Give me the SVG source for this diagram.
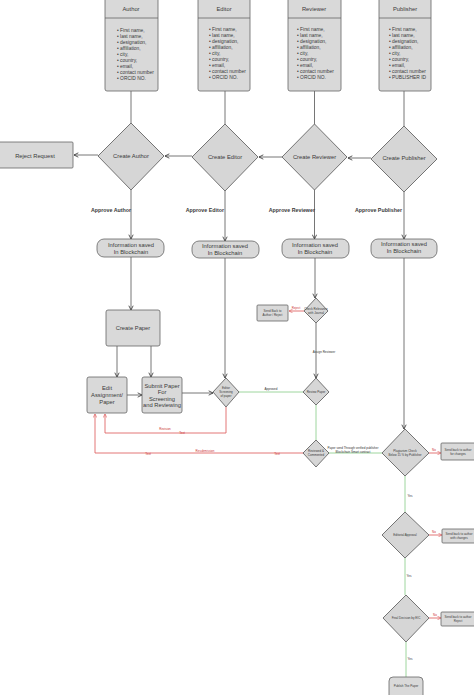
<svg xmlns="http://www.w3.org/2000/svg" width="474" height="695" viewBox="0 0 474 695">
<style>
text{font-family:"Liberation Sans",Arial,sans-serif;fill:#3a3a3a}
.box{fill:#d9d9d9;stroke:#666;stroke-width:0.8}
.dia{fill:#d6d6d6;stroke:#555;stroke-width:0.8}
.t6{font-size:5.8px;text-anchor:middle}
.t5{font-size:4.9px}
.ap{font-size:5.3px;font-weight:bold;text-anchor:end}
.tiny{font-size:3px;text-anchor:middle}
.ln{fill:none;stroke:#666;stroke-width:0.9}
.red{fill:none;stroke:#e06666;stroke-width:0.9}
.grn{fill:none;stroke:#93d193;stroke-width:0.9}
.rt{font-size:3px;fill:#cc3333;text-anchor:middle}
.gt{font-size:3px;fill:#333;text-anchor:middle}
</style>
<defs>
<marker id="ar" viewBox="0 0 10 10" refX="9" refY="5" markerWidth="6" markerHeight="6" orient="auto"><path d="M1,1 L9,5 L1,9" fill="none" stroke="#333" stroke-width="1.5"/></marker>
<marker id="arr" viewBox="0 0 10 10" refX="9" refY="5" markerWidth="5" markerHeight="5" orient="auto"><path d="M1,1 L9,5 L1,9" fill="none" stroke="#e06666" stroke-width="1.5"/></marker>
</defs>
<rect width="474" height="695" fill="#fff"/>

<g id="connectors">
<line class="ln" x1="131" y1="91" x2="131" y2="123"/>
<line class="ln" x1="225" y1="91" x2="225" y2="124"/>
<line class="ln" x1="314.5" y1="91" x2="314.5" y2="124"/>
<line class="ln" x1="404" y1="91" x2="404" y2="126"/>
<line class="ln" x1="371" y1="158" x2="348" y2="158" marker-end="url(#ar)"/>
<line class="ln" x1="282" y1="157" x2="259" y2="157" marker-end="url(#ar)"/>
<line class="ln" x1="192" y1="156" x2="165" y2="156" marker-end="url(#ar)"/>
<line class="ln" x1="98" y1="155" x2="74" y2="155" marker-end="url(#ar)"/>
<line class="ln" x1="131" y1="190" x2="131" y2="239" marker-end="url(#ar)"/>
<line class="ln" x1="225" y1="191" x2="225" y2="241" marker-end="url(#ar)"/>
<line class="ln" x1="314.5" y1="190" x2="314.5" y2="239" marker-end="url(#ar)"/>
<line class="ln" x1="404" y1="192" x2="404" y2="239" marker-end="url(#ar)"/>
<line class="ln" x1="131" y1="257" x2="131" y2="310" marker-end="url(#ar)"/>
<line class="ln" x1="225" y1="258" x2="225" y2="378" marker-end="url(#ar)"/>
<line class="ln" x1="315" y1="258" x2="315" y2="298" marker-end="url(#ar)"/>
<line class="ln" x1="404" y1="258" x2="404" y2="429" marker-end="url(#ar)"/>
<line class="ln" x1="117" y1="346" x2="117" y2="377" marker-end="url(#ar)"/>
<line class="ln" x1="151" y1="346" x2="151" y2="377" marker-end="url(#ar)"/>
<line class="ln" x1="127" y1="395" x2="142" y2="395" marker-end="url(#ar)"/>
<line class="ln" x1="182" y1="393" x2="213" y2="393" marker-end="url(#ar)"/>
<line class="ln" x1="316" y1="323" x2="316" y2="378" marker-end="url(#ar)"/>
<text class="gt" x="324" y="353">Assign Reviewer</text>
<polyline class="red" points="226,407 226,433 105,433 105,414" marker-end="url(#arr)"/>
<text class="rt" x="165" y="430">Revision</text>
<text class="rt" x="182" y="434">Text</text>
<polyline class="red" points="304,453 95,453 95,414" marker-end="url(#arr)"/>
<text class="rt" x="205" y="452">Resubmission</text>
<text class="rt" x="148" y="455">Text</text>
<text class="rt" x="277" y="455">Text</text>
<line class="red" x1="304" y1="311" x2="289" y2="311" marker-end="url(#arr)"/>
<text class="rt" x="296" y="309">Reject</text>
<line class="grn" x1="239" y1="392" x2="303" y2="392"/>
<text class="gt" x="271" y="390">Approved</text>
<line class="grn" x1="316" y1="405" x2="316" y2="440"/>
<line class="grn" x1="328" y1="453" x2="382" y2="453"/>
<text class="gt" x="353" y="449">Paper send Through verified publisher</text>
<text class="gt" x="353" y="452.5">Blockchain Smart contract</text>
<line class="red" x1="429" y1="453" x2="441" y2="453" marker-end="url(#arr)"/>
<text class="rt" x="434" y="451">No</text>
<line class="grn" x1="405" y1="476" x2="405" y2="512"/>
<text class="gt" x="410" y="497">Yes</text>
<line class="red" x1="429" y1="535" x2="442" y2="535" marker-end="url(#arr)"/>
<text class="rt" x="434" y="533">No</text>
<line class="grn" x1="405" y1="558" x2="405" y2="595"/>
<text class="gt" x="409" y="577">Yes</text>
<line class="red" x1="429" y1="618" x2="441" y2="618" marker-end="url(#arr)"/>
<text class="rt" x="435" y="616">No</text>
<line class="grn" x1="406" y1="642" x2="406" y2="677"/>
<text class="gt" x="410" y="660">Yes</text>
</g>

<g id="author">
<rect class="box" x="105" y="-5" width="53" height="96" rx="2"/>
<line x1="105" y1="18" x2="158" y2="18" stroke="#666" stroke-width="0.8"/>
<text class="t6" x="131" y="11">Author</text>
<g class="t5"><text x="117" y="32">• First name,</text><text x="117" y="38">• last name,</text><text x="117" y="44">• designation,</text><text x="117" y="50">• affiliation,</text><text x="117" y="56">• city,</text><text x="117" y="62">• country,</text><text x="117" y="68">• email,</text><text x="117" y="74">• contact number</text><text x="117" y="80">• ORCID NO.</text></g>
</g>
<g id="editor">
<rect class="box" x="198" y="-5" width="52" height="96" rx="2"/>
<line x1="198" y1="18" x2="250" y2="18" stroke="#666" stroke-width="0.8"/>
<text class="t6" x="224" y="11">Editor</text>
<g class="t5"><text x="209" y="31">• First name,</text><text x="209" y="37">• last name,</text><text x="209" y="43">• designation,</text><text x="209" y="49">• affiliation,</text><text x="209" y="55">• city,</text><text x="209" y="61">• country,</text><text x="209" y="67">• email,</text><text x="209" y="73">• contact number</text><text x="209" y="79">• ORCID NO.</text></g>
</g>
<g id="reviewer">
<rect class="box" x="288" y="-5" width="53" height="96" rx="2"/>
<line x1="288" y1="18" x2="341" y2="18" stroke="#666" stroke-width="0.8"/>
<text class="t6" x="314" y="11">Reviewer</text>
<g class="t5"><text x="297" y="31">• First name,</text><text x="297" y="37">• last name,</text><text x="297" y="43">• designation,</text><text x="297" y="49">• affiliation,</text><text x="297" y="55">• city,</text><text x="297" y="61">• country,</text><text x="297" y="67">• email,</text><text x="297" y="73">• contact number</text><text x="297" y="79">• ORCID NO.</text></g>
</g>
<g id="publisher">
<rect class="box" x="379" y="-5" width="52" height="96" rx="2"/>
<line x1="379" y1="18" x2="431" y2="18" stroke="#666" stroke-width="0.8"/>
<text class="t6" x="405" y="11">Publisher</text>
<g class="t5"><text x="389" y="31">• First name,</text><text x="389" y="37">• last name,</text><text x="389" y="43">• designation,</text><text x="389" y="49">• affiliation,</text><text x="389" y="55">• city,</text><text x="389" y="61">• country,</text><text x="389" y="67">• email,</text><text x="389" y="73">• contact number</text><text x="389" y="79">• PUBLISHER ID</text></g>
</g>

<g id="reject-request"><rect class="box" x="-3" y="142" width="76" height="26" rx="1"/><text class="t6" x="35" y="158">Reject Request</text></g>
<g id="create-author"><polygon class="dia" points="131,123 164,156 131,190 98,156"/><text class="t6" x="131" y="158">Create Author</text></g>
<g id="create-editor"><polygon class="dia" points="225,124 258,157 225,191 192,157"/><text class="t6" x="225" y="159">Create Editor</text></g>
<g id="create-reviewer"><polygon class="dia" points="314.5,124 347,157 314.5,190 282,157"/><text class="t6" x="314.5" y="159">Create Reviewer</text></g>
<g id="create-publisher"><polygon class="dia" points="404,126 437,159 404,192 371,159"/><text class="t6" x="404" y="160">Create Publisher</text></g>

<g id="approve-labels">
<text class="ap" x="131" y="212">Approve Author</text>
<text class="ap" x="224" y="212">Approve Editor</text>
<text class="ap" x="315" y="212">Approve Reviewer</text>
<text class="ap" x="402" y="212">Approve Publisher</text>
</g>

<g id="info-author"><rect class="box" x="97" y="239" width="67" height="18" rx="7"/><text class="t6" x="131" y="247">Information saved</text><text class="t6" x="131" y="254">In  Blockchain</text></g>
<g id="info-editor"><rect class="box" x="192" y="241" width="67" height="17" rx="7"/><text class="t6" x="225" y="248">Information saved</text><text class="t6" x="225" y="255">In  Blockchain</text></g>
<g id="info-reviewer"><rect class="box" x="282" y="239" width="67" height="19" rx="7"/><text class="t6" x="315" y="247">Information saved</text><text class="t6" x="315" y="254">In  Blockchain</text></g>
<g id="info-publisher"><rect class="box" x="371" y="239" width="66" height="19" rx="7"/><text class="t6" x="404" y="246">Information saved</text><text class="t6" x="404" y="253">In  Blockchain</text></g>

<g id="create-paper"><rect class="box" x="106" y="310" width="54" height="36" rx="2"/><text class="t6" x="133" y="330">Create Paper</text></g>
<g id="edit-paper"><rect class="box" x="87" y="377" width="40" height="36" rx="2"/><text class="t6" x="107" y="390">Edit</text><text class="t6" x="107" y="397">Assignment/</text><text class="t6" x="107" y="404">Paper</text></g>
<g id="submit-paper"><rect class="box" x="142" y="377" width="40" height="36" rx="2"/><text class="t6" x="162" y="388">Submit Paper</text><text class="t6" x="162" y="394">For</text><text class="t6" x="162" y="401">Screening</text><text class="t6" x="162" y="407">and Reviewing</text></g>
<g id="editor-screening"><polygon class="dia" points="226,378 239,392 226,407 213,392"/><text class="tiny" x="226" y="389">Editor</text><text class="tiny" x="226" y="393">Screening</text><text class="tiny" x="226" y="397">of paper</text></g>
<g id="check-scope"><polygon class="dia" points="316,298 328,311 316,323 304,311"/><text class="tiny" x="316" y="310">Check Relevance</text><text class="tiny" x="316" y="314">with Journal</text></g>
<g id="send-back"><rect class="box" x="257" y="305" width="31" height="16" rx="1"/><text class="tiny" x="272.5" y="312">Send Back to</text><text class="tiny" x="272.5" y="316">Author / Reject</text></g>
<g id="review-paper"><polygon class="dia" points="316,378 329,392 316,405 303,392"/><text class="tiny" x="316" y="393">Review Paper</text></g>
<g id="reviewed"><polygon class="dia" points="316,440 329,453 316,467 303,453"/><text class="tiny" x="316" y="452">Reviewed &amp;</text><text class="tiny" x="316" y="456">Commented</text></g>
<g id="plagiarism-check"><polygon class="dia" points="405,429 429,453 405,476 382,453"/><text class="tiny" x="405" y="452">Plagiarism Check</text><text class="tiny" x="405" y="456">Below 15 % by Publisher</text></g>
<g id="send-author-1"><rect class="box" x="441" y="443" width="36" height="17" rx="1"/><text class="tiny" x="458" y="451">Send back to author</text><text class="tiny" x="458" y="455">for changes</text></g>
<g id="editorial-approval"><polygon class="dia" points="405,512 429,535 405,558 382,535"/><text class="tiny" x="405" y="536">Editorial Approval</text></g>
<g id="send-author-2"><rect class="box" x="442" y="529" width="35" height="14" rx="1"/><text class="tiny" x="459" y="535">Send back to author</text><text class="tiny" x="459" y="539">with changes</text></g>
<g id="final-decision"><polygon class="dia" points="406,595 429,618 406,642 383,618"/><text class="tiny" x="406" y="619">Final Decision by EIC</text></g>
<g id="send-author-3"><rect class="box" x="441" y="612" width="36" height="14" rx="1"/><text class="tiny" x="458" y="618">Send back to author</text><text class="tiny" x="458" y="622">Reject</text></g>
<g id="publish-paper"><rect class="box" x="389" y="677" width="34" height="24" rx="4"/><text class="tiny" x="406" y="687">Publish The Paper</text></g>
</svg>
